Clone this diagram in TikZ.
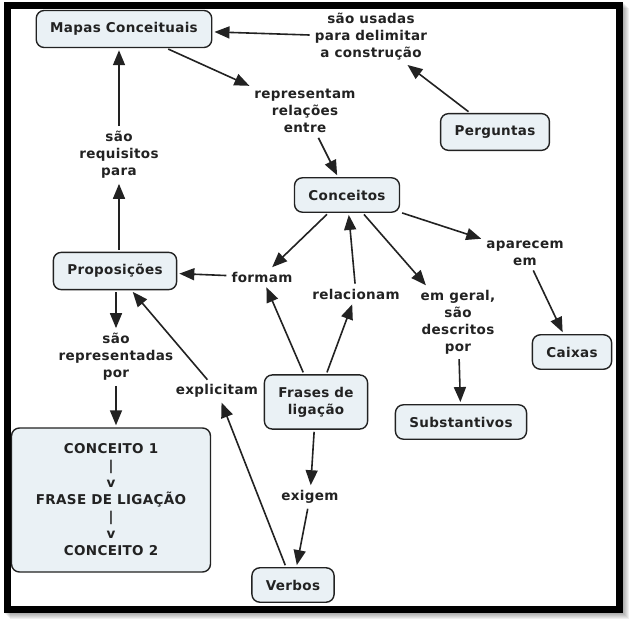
\documentclass[tikz,border=0pt]{standalone}
\usepackage{fontspec}
\setmainfont{DejaVu Sans}[LetterSpace=2.5]
\usetikzlibrary{arrows.meta}
\definecolor{boxfill}{RGB}{234,241,245}
\definecolor{ink}{RGB}{34,34,34}

\begin{document}
\begin{tikzpicture}[x=1pt, y=-1pt, >={Triangle[length=15pt,width=12pt]}, font=\bfseries\fontsize{13.5}{17}\selectfont, text=ink]
    % Define block styles
    \tikzstyle{concept} = [draw=ink, fill=boxfill, rectangle, rounded corners=8pt, line width=1.4pt, inner xsep=14pt, inner ysep=12pt, align=center]
    \tikzstyle{phrase} = [align=center, inner sep=3pt]
    \tikzstyle{link} = [draw=ink, line width=1.6pt, ->, shorten >=2pt, shorten <=2pt]

    % Frame
    \useasboundingbox (0,0) rectangle (633,623);
    \foreach \s in {1,...,6}
        \fill [black, opacity=0.06] (4+\s,2+\s) rectangle (623+\s,613+\s);
    \fill [white] (4,2) rectangle (623,613);
    \draw [line width=7pt] (7.5,5.5) rectangle (619.5,609.5);

    % Nodes
    \node [concept] (mapas) at (124,29) {Mapas Conceituais};
    \node [phrase] (usadas) at (371,37) {são usadas\\para delimitar\\a construção};
    \node [concept] (perg) at (495,132) {Perguntas};
    \node [phrase] (repres) at (305,111) {representam\\relações\\entre};
    \node [phrase] (requis) at (119,155) {são\\requisitos\\para};
    \node [concept] (conc) at (347,195) {Conceitos};
    \node [concept] (prop) at (115,271) {Proposições};
    \node [phrase] (formam) at (262,277) {formam};
    \node [phrase] (relac) at (356,294) {relacionam};
    \node [phrase] (aparec) at (525,253) {aparecem\\em};
    \node [phrase] (geral) at (458,322) {em geral,\\são\\descritos\\por};
    \node [concept] (caixas) at (572,352) {Caixas};
    \node [phrase] (reprpor) at (116,357) {são\\representadas\\por};
    \node [phrase] (explic) at (217,391) {explicitam};
    \node [concept] (frases) at (316,402) {Frases de\\ligação};
    \node [concept] (subst) at (461,422) {Substantivos};
    \node [concept, minimum width=199pt, minimum height=144pt] (estrut) at (111,500) {CONCEITO 1\\|\\v\\FRASE DE LIGAÇÃO\\|\\v\\CONCEITO 2};
    \node [phrase] (exigem) at (310,497) {exigem};
    \node [concept] (verbos) at (293,585) {Verbos};

    % Connections
    \draw [link] (perg) -- (usadas);
    \draw [link] (usadas) -- (mapas);
    \draw [link] (mapas) -- (repres);
    \draw [link] (repres) -- (conc);
    \draw [link] (conc) -- (formam);
    \draw [link] (formam) -- (prop);
    \draw [link] (conc) -- (aparec);
    \draw [link] (aparec) -- (caixas);
    \draw [link] (conc) -- (geral);
    \draw [link] (geral) -- (subst);
    \draw [link] (relac) -- (conc);
    \draw [link] (frases) -- (formam);
    \draw [link] (frases) -- (relac);
    \draw [link] (frases) -- (exigem);
    \draw [link] (exigem) -- (verbos);
    \draw [link] (verbos) -- (explic);
    \draw [link] (explic) -- (prop);
    \draw [link] (prop.north -| requis) -- (requis);
    \draw [link] (requis) -- (requis |- mapas.south);
    \draw [link] (prop.south -| reprpor) -- (reprpor);
    \draw [link] (reprpor) -- (reprpor |- estrut.north);
\end{tikzpicture}
\end{document}
